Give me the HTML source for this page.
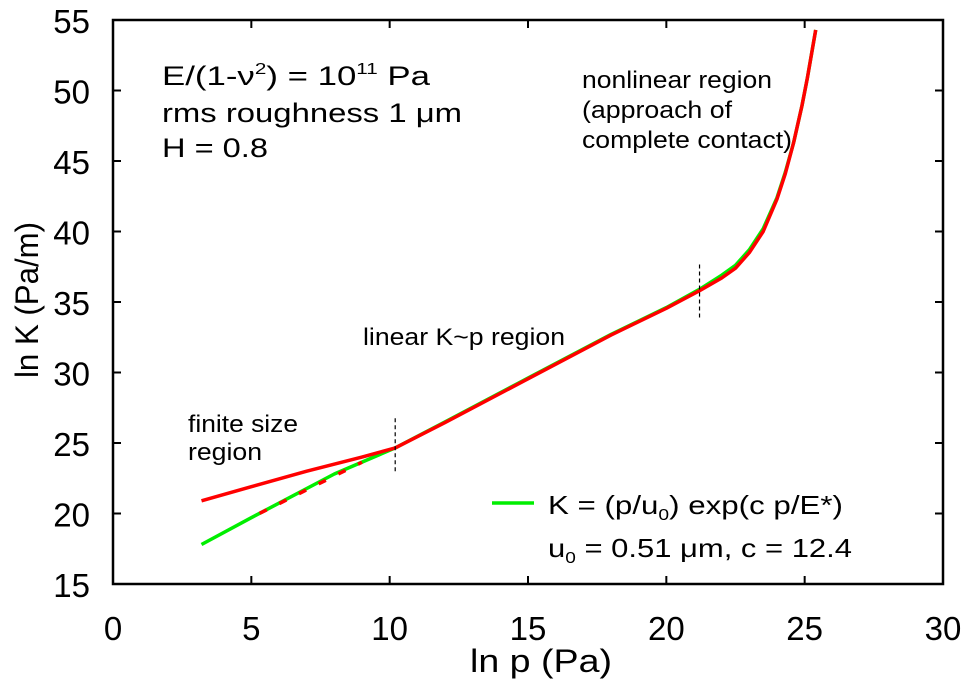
<!DOCTYPE html>
<html><head><meta charset="utf-8"><style>
body{margin:0;background:#fff;}
svg text{font-family:"Liberation Sans",Helvetica,sans-serif;fill:#000;}
</style></head><body>
<svg id="chart" width="969" height="691" viewBox="0 0 969 691" xmlns="http://www.w3.org/2000/svg">
<g id="axes"></g>
<g id="series"></g>
<g font-size="24">
<text x="162" y="85" font-size="27" textLength="268" lengthAdjust="spacingAndGlyphs">E/(1-ν<tspan dy="-11" font-size="16">2</tspan><tspan dy="11">) = 10</tspan><tspan dy="-11" font-size="16">11</tspan><tspan dy="11"> Pa</tspan></text>
<text x="162" y="122" font-size="27" textLength="300" lengthAdjust="spacingAndGlyphs">rms roughness 1 μm</text>
<text x="162" y="157" font-size="27" textLength="106" lengthAdjust="spacingAndGlyphs">H = 0.8</text>
<text x="582" y="88" textLength="190" lengthAdjust="spacingAndGlyphs">nonlinear region</text>
<text x="582" y="118" textLength="150" lengthAdjust="spacingAndGlyphs">(approach of</text>
<text x="582" y="148" textLength="210" lengthAdjust="spacingAndGlyphs">complete contact)</text>
<text x="363" y="345" textLength="202" lengthAdjust="spacingAndGlyphs">linear K~p region</text>
<text x="188" y="432" textLength="110" lengthAdjust="spacingAndGlyphs">finite size</text>
<text x="188" y="460" textLength="74" lengthAdjust="spacingAndGlyphs">region</text>
<line x1="492" y1="503" x2="534" y2="503" stroke="#00ee00" stroke-width="3.5"/>
<text x="548" y="514" font-size="26" textLength="295" lengthAdjust="spacingAndGlyphs">K = (p/u<tspan dy="6" font-size="16">0</tspan><tspan dy="-6">) exp(c p/E*)</tspan></text>
<text x="548" y="557" font-size="26" textLength="304" lengthAdjust="spacingAndGlyphs">u<tspan dy="6" font-size="16">0</tspan><tspan dy="-6"> = 0.51 μm, c = 12.4</tspan></text>
</g>
</svg>
<script>
const xTicks=[0,5,10,15,20,25,30];
const yTicks=[15,20,25,30,35,40,45,50,55];
const fitX=[3.2,5,8,10.2,12,15,18,20,21.2,22,22.5,23,23.5,24,24.3,24.6,24.9,25.1,25.4];
const fitY=[17.8,19.7,22.8,24.65,26.5,29.6,32.7,34.6,35.9,36.9,37.6,38.7,40.2,42.4,44.2,46.3,48.9,50.9,54.3];
const finiteX=[3.2,5,7,9,10.2];
const finiteY=[20.9,21.9,23.0,24.0,24.65];
const mainX=[10.2,12,15,18,20,21.2,22,22.5,23,23.5,24,24.3,24.6,24.9,25.1,25.4];
const mainY=[24.65,26.45,29.55,32.65,34.55,35.8,36.7,37.4,38.5,40.0,42.3,44.1,46.3,48.9,50.9,54.3];
const dashX=[5.3,9.0];
const markX=[10.2,21.2];
const markLo=[23.0,33.9];
const markHi=[26.8,37.8];
const X0=113,X1=943,Y0=584,Y1=20;
const sx=v=>X0+(v-0)/(30-0)*(X1-X0);
const sy=v=>Y0-(v-15)/(55-15)*(Y0-Y1);
const NS='http://www.w3.org/2000/svg';
function mk(p,t,a){const e=document.createElementNS(NS,t);for(const k in a)e.setAttribute(k,a[k]);p.appendChild(e);return e;}
const ax=document.getElementById('axes');
const frame=mk(ax,'rect',{x:X0,y:Y1,width:X1-X0,height:Y0-Y1,fill:'none',stroke:'#000','stroke-width':2.5});


xTicks.forEach(t=>{const x=sx(t);
const l1=mk(ax,'line',{x1:x,x2:x,y1:Y0,y2:Y0-8,stroke:'#000','stroke-width':2});


const l2=mk(ax,'line',{x1:x,x2:x,y1:Y1,y2:Y1+8,stroke:'#000','stroke-width':2});


const tx=mk(ax,'text',{x:x,y:Y0+56,'text-anchor':'middle','font-size':33});tx.textContent=t;

});
yTicks.forEach(t=>{const y=sy(t);
const l1=mk(ax,'line',{x1:X0,x2:X0+8,y1:y,y2:y,stroke:'#000','stroke-width':2});


const l2=mk(ax,'line',{x1:X1,x2:X1-8,y1:y,y2:y,stroke:'#000','stroke-width':2});


const tx=mk(ax,'text',{x:X0-23,y:y+13,'text-anchor':'end','font-size':33});tx.textContent=t;

});
const xt=mk(ax,'text',{x:470,y:672,'font-size':32,textLength:142,lengthAdjust:'spacingAndGlyphs'});xt.textContent='ln p  (Pa)';


const yt=mk(ax,'text',{x:0,y:0,'font-size':32,textLength:156,lengthAdjust:'spacingAndGlyphs',transform:'translate(38,378) rotate(-90)'});yt.textContent='ln K  (Pa/m)';


const sr=document.getElementById('series');
const pts=(xs,ys)=>xs.map((x,i)=>sx(x).toFixed(1)+','+sy(ys[i]).toFixed(1)).join(' ');
const g=mk(sr,'polyline',{points:pts(fitX,fitY),fill:'none',stroke:'#00ee00','stroke-width':3.5,'stroke-linejoin':'round'});


const fy=x=>{for(let i=0;i<fitX.length-1;i++){if(x<=fitX[i+1]){const f=(x-fitX[i])/(fitX[i+1]-fitX[i]);return fitY[i]+f*(fitY[i+1]-fitY[i]);}}return fitY[fitY.length-1];};
const d=mk(sr,'line',{x1:sx(dashX[0]),y1:sy(fy(dashX[0])),x2:sx(dashX[1]),y2:sy(fy(dashX[1])),stroke:'#ff0000','stroke-width':3.5,'stroke-dasharray':'8,14'});


const r1=mk(sr,'polyline',{points:pts(finiteX,finiteY),fill:'none',stroke:'#ff0000','stroke-width':3.5,'stroke-linejoin':'round'});


const r2=mk(sr,'polyline',{points:pts(mainX,mainY),fill:'none',stroke:'#ff0000','stroke-width':3.5,'stroke-linejoin':'round'});


markX.forEach((m,i)=>{const l=mk(sr,'line',{x1:sx(m),x2:sx(m),y1:sy(markLo[i]),y2:sy(markHi[i]),stroke:'#000','stroke-width':1.2,'stroke-dasharray':'4,3'});

});
</script>
</body></html>
